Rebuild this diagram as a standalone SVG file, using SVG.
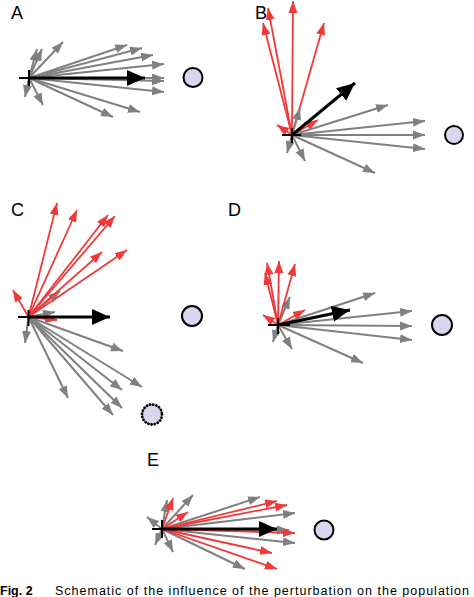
<svg xmlns="http://www.w3.org/2000/svg" width="474" height="597" viewBox="0 0 474 597">
<style>
.g{stroke:#808080;stroke-width:2;fill:none;marker-end:url(#hg)}
.r{stroke:#f03a3a;stroke-width:1.8;fill:none;marker-end:url(#hr)}
.k{stroke:#000;stroke-width:3;fill:none;marker-end:url(#hk)}
.x{stroke:#000;stroke-width:2;fill:none}
.t{fill:#d8d7ee;stroke:#000;stroke-width:2}
.d{fill:#d8d7ee;stroke:#000;stroke-width:2.8;stroke-linecap:round;stroke-dasharray:0.1 3.1}
.lbl{font-family:"Liberation Sans",Arial,sans-serif;font-size:18px;fill:#000}
.cap{font-family:"Liberation Sans",Arial,sans-serif;font-size:12.5px;fill:#000}
</style>
<defs>
<marker id="hg" markerUnits="userSpaceOnUse" markerWidth="13" markerHeight="10" refX="12" refY="4.5" orient="auto"><path d="M0,0 L12,4.5 L0,9 z" fill="#808080"/></marker>
<marker id="hr" markerUnits="userSpaceOnUse" markerWidth="13" markerHeight="10" refX="12" refY="4.5" orient="auto"><path d="M0,0 L12,4.5 L0,9 z" fill="#f03a3a"/></marker>
<marker id="hk" markerUnits="userSpaceOnUse" markerWidth="19" markerHeight="17" refX="18" refY="8" orient="auto"><path d="M0,0 L18,8 L0,16 z" fill="#000"/></marker>
</defs>

<g id="labels">
<text class="lbl" x="11" y="19">A</text>
<text class="lbl" x="255" y="19">B</text>
<text class="lbl" x="11" y="216">C</text>
<text class="lbl" x="228" y="216">D</text>
<text class="lbl" x="147" y="466">E</text>
</g>

<g id="targetA"><circle class="t" cx="193" cy="77.5" r="9.5"/></g>
<g id="targetB"><circle class="t" cx="454" cy="135" r="9"/></g>
<g id="targetC"><circle class="t" cx="192" cy="316" r="10"/></g>
<g id="targetC2"><circle class="d" cx="152" cy="414.5" r="10"/></g>
<g id="targetD"><circle class="t" cx="442" cy="325" r="10"/></g>
<g id="targetE"><circle class="t" cx="324" cy="530" r="9.5"/></g>

<g id="connectors">
<g id="arrowsA">
<path class="g" d="M29,78 L63,42"/>
<path class="g" d="M29,78 L42,49"/>
<path class="g" d="M29,78 L37,49"/>
<path class="g" d="M29,78 L127,45"/>
<path class="g" d="M29,78 L142,48"/>
<path class="g" d="M29,78 L153,55"/>
<path class="g" d="M29,78 L164,64"/>
<path class="g" d="M29,78 L164,78"/>
<path class="g" d="M29,78 L164,81"/>
<path class="g" d="M29,78 L164,92"/>
<path class="g" d="M29,78 L140,112"/>
<path class="g" d="M29,78 L113,117"/>
<path class="g" d="M29,78 L43,105"/>
<path class="g" d="M29,78 L25,97"/>
<path class="k" d="M29,78 L145,78"/>
<path class="x" d="M19,78 L40,78 M29,70 L29,86"/>
</g>
<g id="arrowsB">
<path class="r" d="M292,135 L263,23"/>
<path class="r" d="M292,135 L268,8"/>
<path class="r" d="M292,135 L293,1"/>
<path class="r" d="M292,135 L324,23"/>
<path class="r" d="M292,135 L277,125"/>
<path class="r" d="M292,135 L318,120"/>
<path class="g" d="M292,135 L300,108"/>
<path class="g" d="M292,135 L388,105"/>
<path class="g" d="M292,135 L425,121"/>
<path class="g" d="M292,135 L425,135"/>
<path class="g" d="M292,135 L425,149"/>
<path class="g" d="M292,135 L375,173"/>
<path class="g" d="M292,135 L287,153"/>
<path class="g" d="M292,135 L305,161"/>
<path class="k" d="M292,135 L355,83"/>
<path class="x" d="M282,135 L301,135 M292,128 L292,143"/>
</g>
<g id="arrowsC">
<path class="g" d="M28.5,317 L60,291"/>
<path class="r" d="M28.5,317 L57,203"/>
<path class="r" d="M28.5,317 L77,210"/>
<path class="r" d="M28.5,317 L108,215"/>
<path class="r" d="M28.5,317 L115,216"/>
<path class="r" d="M28.5,317 L102,252"/>
<path class="r" d="M28.5,317 L127,250"/>
<path class="r" d="M28.5,317 L13,290"/>
<path class="g" d="M28.5,317 L55,312"/>
<path class="r" d="M28.5,317 L57,320"/>
<path class="g" d="M28.5,317 L25,343"/>
<path class="g" d="M28.5,317 L123,351"/>
<path class="g" d="M28.5,317 L142,387"/>
<path class="g" d="M28.5,317 L122,390"/>
<path class="g" d="M28.5,317 L122,408"/>
<path class="g" d="M28.5,317 L113,415"/>
<path class="g" d="M28.5,317 L68,398"/>
<path class="k" d="M28.5,317 L110,317"/>
<path class="x" d="M18,317 L40,317 M28.5,310 L28.5,326"/>
</g>
<g id="arrowsD">
<path class="g" d="M278,325 L290,297"/>
<path class="r" d="M278,325 L267,263"/>
<path class="r" d="M278,325 L279,261"/>
<path class="r" d="M278,325 L295,264"/>
<path class="r" d="M278,325 L265,273"/>
<path class="r" d="M278,325 L263,315"/>
<path class="r" d="M278,325 L305,310"/>
<path class="g" d="M278,325 L375,293"/>
<path class="g" d="M278,325 L412,311"/>
<path class="g" d="M278,325 L412,326"/>
<path class="g" d="M278,325 L412,340"/>
<path class="g" d="M278,325 L363,363"/>
<path class="g" d="M278,325 L273,342"/>
<path class="g" d="M278,325 L292,349"/>
<path class="k" d="M278,325 L350,310"/>
<path class="x" d="M268,325 L290,325 M278,318 L278,334"/>
</g>
<g id="arrowsE">
<path class="g" d="M162,529 L193,495"/>
<path class="g" d="M162,529 L167,500"/>
<path class="g" d="M162,529 L260,497"/>
<path class="g" d="M162,529 L295,513"/>
<path class="g" d="M162,529 L289,530"/>
<path class="g" d="M162,529 L295,543"/>
<path class="g" d="M162,529 L245,569"/>
<path class="g" d="M162,529 L147,517"/>
<path class="g" d="M162,529 L155,545"/>
<path class="g" d="M162,529 L173,552"/>
<path class="r" d="M162,529 L173,498"/>
<path class="r" d="M162,529 L188,512"/>
<path class="r" d="M162,529 L277,501"/>
<path class="r" d="M162,529 L287,505"/>
<path class="r" d="M162,529 L295,533"/>
<path class="r" d="M162,529 L272,553"/>
<path class="r" d="M162,529 L277,569"/>
<path class="k" d="M162,529 L277,529"/>
<path class="x" d="M152,529 L172,529 M162,520 L162,538"/>
</g>
</g>

<g id="caption">
<text class="cap" x="0" y="594.5"><tspan font-weight="bold">Fig. 2</tspan><tspan x="55" textLength="414" lengthAdjust="spacing">Schematic of the influence of the perturbation on the population</tspan></text>
</g>
</svg>
